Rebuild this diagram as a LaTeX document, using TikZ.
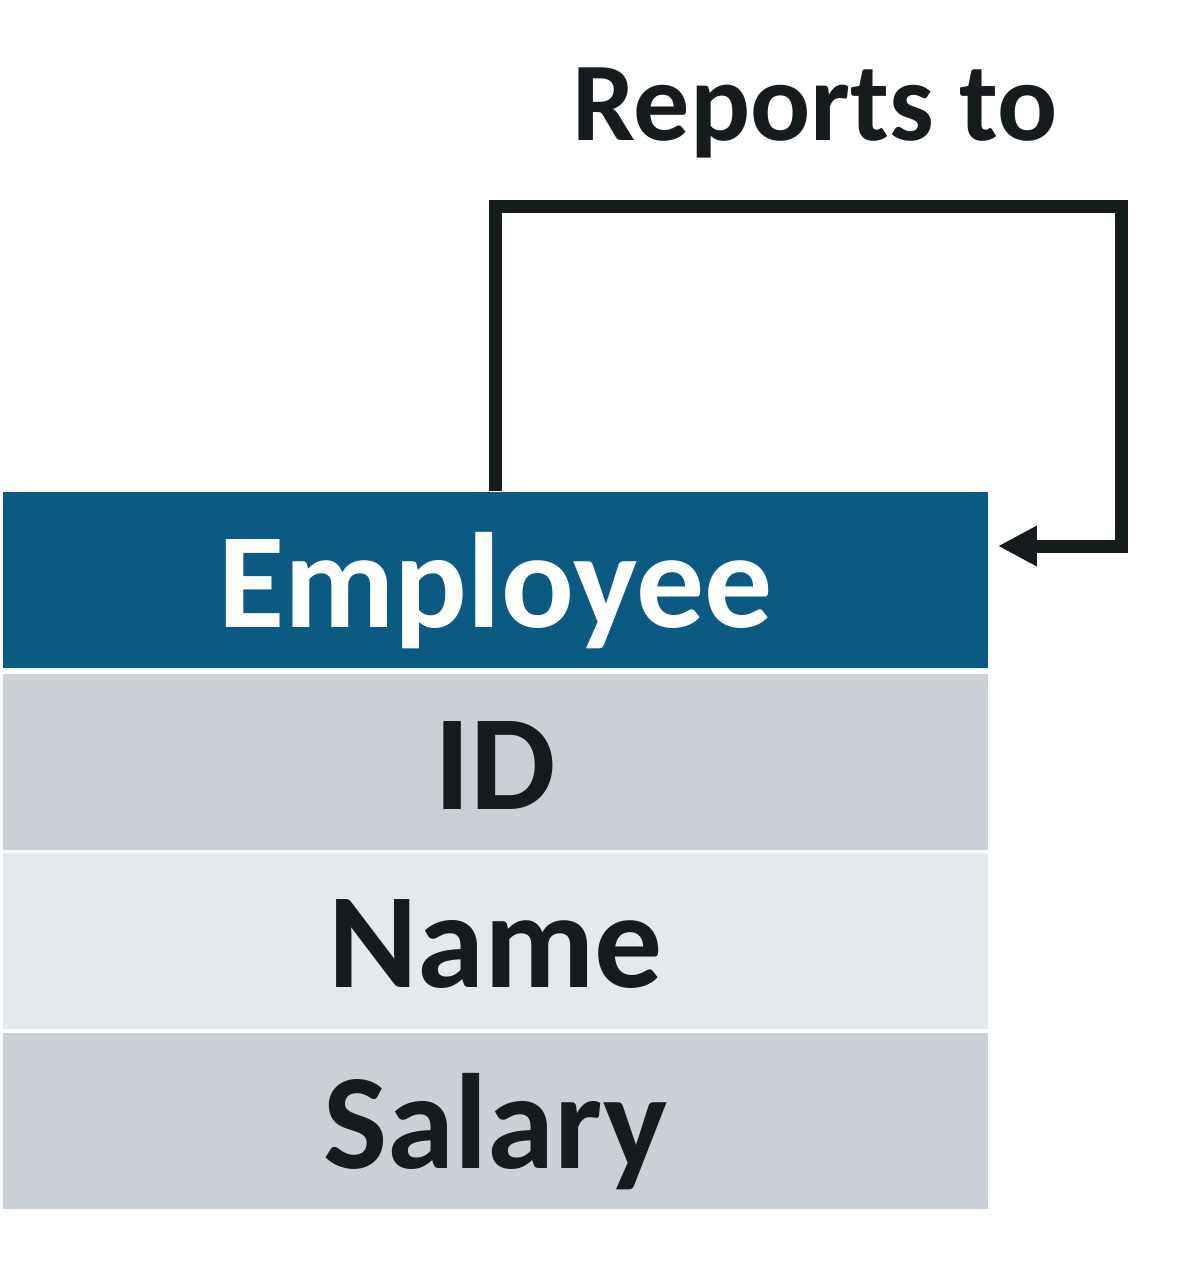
\documentclass[tikz,border=0pt]{standalone}
\usepackage{fontspec}
\setmainfont{Carlito}
\usepackage{tikz}
\usetikzlibrary{arrows.meta}
\usepackage{xcolor}
\definecolor{hdrblue}{HTML}{0A5A81}
\definecolor{rowgray}{HTML}{CBD0D7}
\definecolor{rowlight}{HTML}{E5E9EC}
\definecolor{inkdark}{HTML}{161C1D}

\begin{document}
\begin{tikzpicture}[
  row/.style={minimum width=9.85cm,minimum height=1.76cm,inner sep=0pt,
    text height=0.94cm,text depth=0pt,font=\fontsize{38.6}{40}\selectfont\bfseries,text=inkdark},
  link/.style={line width=0.13cm,draw=inkdark,line join=miter,
    -{Triangle[length=0.39cm,width=0.38cm]}}
]
\useasboundingbox (0,0) rectangle (11.77,-12.86);

\node[row,fill=hdrblue,text=white] (emp) at (4.955,-5.80) {Employee};
\node[row,fill=rowgray] (id) at (4.955,-7.62) {ID};
\node[row,fill=rowlight] (name) at (4.955,-9.405) {Name};
\node[row,fill=rowgray] (salary) at (4.955,-11.21) {Salary};

\node[anchor=base,font=\fontsize{31.9}{33}\selectfont\bfseries,text=inkdark] (rep) at (8.15,-1.40) {Reports to};

\coordinate (corner) at (11.21,-2.06);
\coordinate (tip) at (9.98,-5.46);
\draw[link] (emp.north) |- (corner) |- (tip);
\end{tikzpicture}
\end{document}
